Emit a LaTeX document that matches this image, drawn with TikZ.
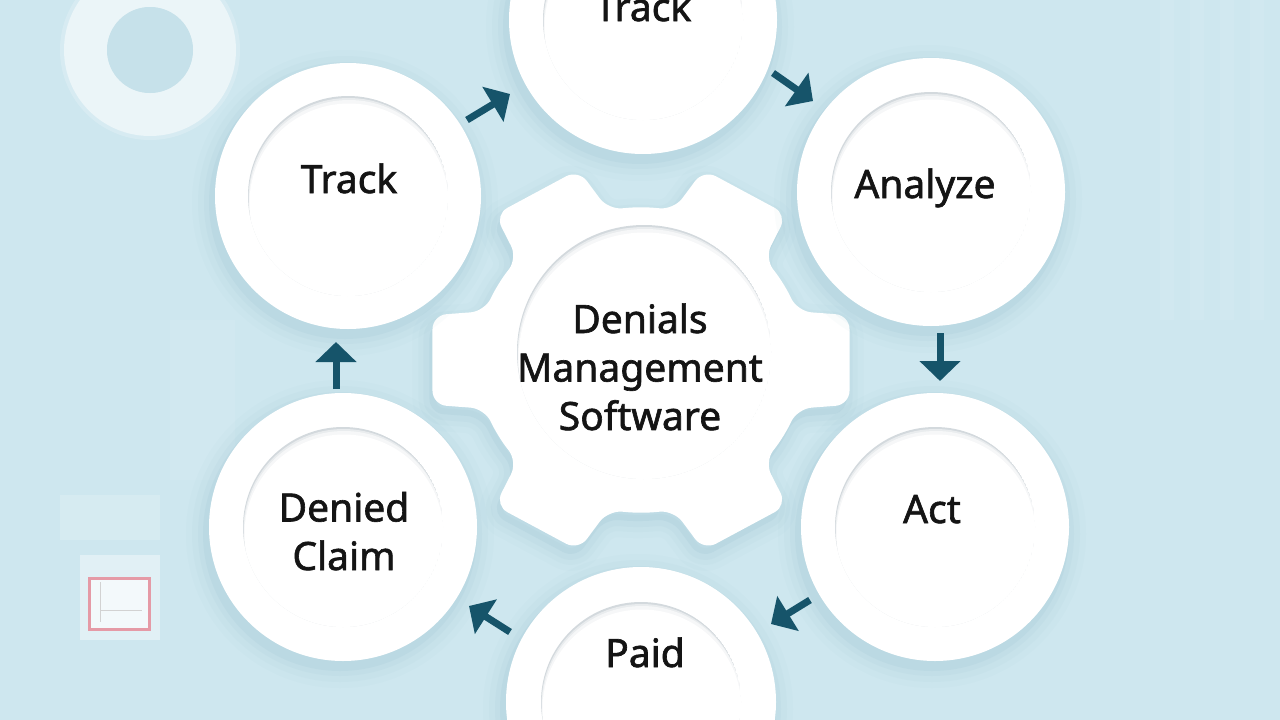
\documentclass[tikz,border=0pt]{standalone}
\usepackage{fontspec}
\setmainfont{Noto Sans}[FakeBold=1.6]
\usetikzlibrary{arrows.meta}
\definecolor{bg}{HTML}{CEE7EF}
\definecolor{shad}{HTML}{8DB8C9}
\definecolor{inset}{HTML}{D3D9DD}
\definecolor{arrowc}{HTML}{16546A}
\definecolor{pinkb}{HTML}{E59AA6}
\definecolor{ringin}{HTML}{C6E1EA}
\tikzset{
  lbl/.style={font=\fontsize{39}{48.5}\selectfont, text=black!92, align=center, inner sep=0pt, anchor=base},
  flowarrow/.style={draw=arrowc, line width=7pt, -{Triangle[width=40pt,length=20pt]}},
  plate/.style={circle, fill=white, inner sep=0pt},
}
% gear outline, relative to its centre
\newcommand\gearpath{%
  (-18.5:165)
  \foreach \a in {0,60,...,240}{
    -- (\a-13:214) -- (\a+13:214) -- (\a+18.5:165) -- (\a+30:165) -- (\a+41.5:165)}
  -- (287:214) -- (313:214) -- (318.5:165) -- (330:165) -- cycle}
% a plate: shadow, white disc (named node), recessed inner disc
\newcommand\plate[4]{%
  \foreach \e/\o in {20/0.04,14/0.06,8/0.08,3/0.12}{%
    \fill[shad, opacity=\o] (#2-3,#3+7) circle[radius=#4+\e];}
  \node[plate, minimum size={#4*2pt}] (#1) at (#2,#3) {};
  \begin{scope}
    \clip (#2,#3) circle[radius=100];
    \fill[inset] (#2,#3) circle[radius=100];
    \fill[white, opacity=.5] (#2+0.5,#3+2) circle[radius=100];
    \fill[white, opacity=.6] (#2+1,#3+4) circle[radius=100];
    \fill[white] (#2+1,#3+7) circle[radius=99.5];
  \end{scope}}
\begin{document}
\begin{tikzpicture}[x=1pt, y=-1pt]
  \useasboundingbox (0,0) rectangle (1280,720);
  \fill[bg] (0,0) rectangle (1280,720);
  % faint background decorations
  \foreach \x in {1160,1190,1220,1250}{\fill[white, opacity=.08] (\x,0) rectangle (\x+14,320);}
  \fill[white, opacity=.07] (170,320) rectangle (235,480);
  \fill[white, opacity=.5, even odd rule] (150,50) circle[radius=86] (150,50) circle[radius=43];
  \fill[white, opacity=.2, even odd rule] (150,50) circle[radius=90] (150,50) circle[radius=39];
  \fill[ringin] (150,50) circle[radius=43];
  \fill[white, opacity=.18] (60,495) rectangle (160,540);
  \fill[white, opacity=.4] (80,555) rectangle (160,640);
  \draw[pinkb, line width=3pt, fill=white, fill opacity=.6] (89,578) rectangle (149,629);
  \draw[gray!35, line width=1pt] (100,582) -- (100,622) (100,610) -- (142,610);

  % central gear
  \begin{scope}[shift={(641,360)}, yscale=0.93]
    \foreach \w/\o in {34/0.04,22/0.06,12/0.08}{%
      \draw[shad, opacity=\o, line width=\w pt, line join=round, rounded corners=14pt, shift={(-3,9)}] \gearpath;}
    \fill[shad, opacity=.15, rounded corners=14pt, shift={(-3,9)}] \gearpath;
    \fill[white, rounded corners=14pt] \gearpath;
  \end{scope}
  \node[plate, minimum size=254pt] (hub) at (644,352) {};
  \begin{scope}
    \clip (644,352) circle[radius=127];
    \fill[inset] (644,352) circle[radius=127];
    \fill[white, opacity=.5] (644.5,354) circle[radius=127];
    \fill[white, opacity=.6] (645,356) circle[radius=127];
    \fill[white] (645,359) circle[radius=126.5];
  \end{scope}
  \node[lbl] (hubtext) at (640,430) {Denials\\Management\\Software};

  % plates
  \plate{ptop}{643}{20}{134}
  \plate{pleft}{348}{196}{133}
  \plate{pright}{931}{192}{134}
  \plate{pact}{935}{527}{134}
  \plate{ppaid}{641}{702}{135}
  \plate{pdenied}{343}{527}{134}

  \node[lbl] (ttop) at (643,21) {Track};
  \node[lbl] (tleft) at (349,193) {Track};
  \node[lbl] (tright) at (925,198) {Analyze};
  \node[lbl] (tact) at (932,523) {Act};
  \node[lbl] (tpaid) at (645,667) {Paid};
  \node[lbl] (tdenied) at (344,570) {Denied\\Claim};

  % arrows
  \coordinate (a1s) at (467,120); \coordinate (a1e) at (510,94);
  \coordinate (a2s) at (773,73);  \coordinate (a2e) at (813,101);
  \coordinate (a3s) at (940,333); \coordinate (a3e) at (940,381);
  \coordinate (a4s) at (810,600); \coordinate (a4e) at (771,624);
  \coordinate (a5s) at (510,632); \coordinate (a5e) at (469,606);
  \coordinate (a6s) at (336,389); \coordinate (a6e) at (336,342);
  \foreach \i in {1,...,6}{\draw[flowarrow] (a\i s) -- (a\i e);}
\end{tikzpicture}
\end{document}
